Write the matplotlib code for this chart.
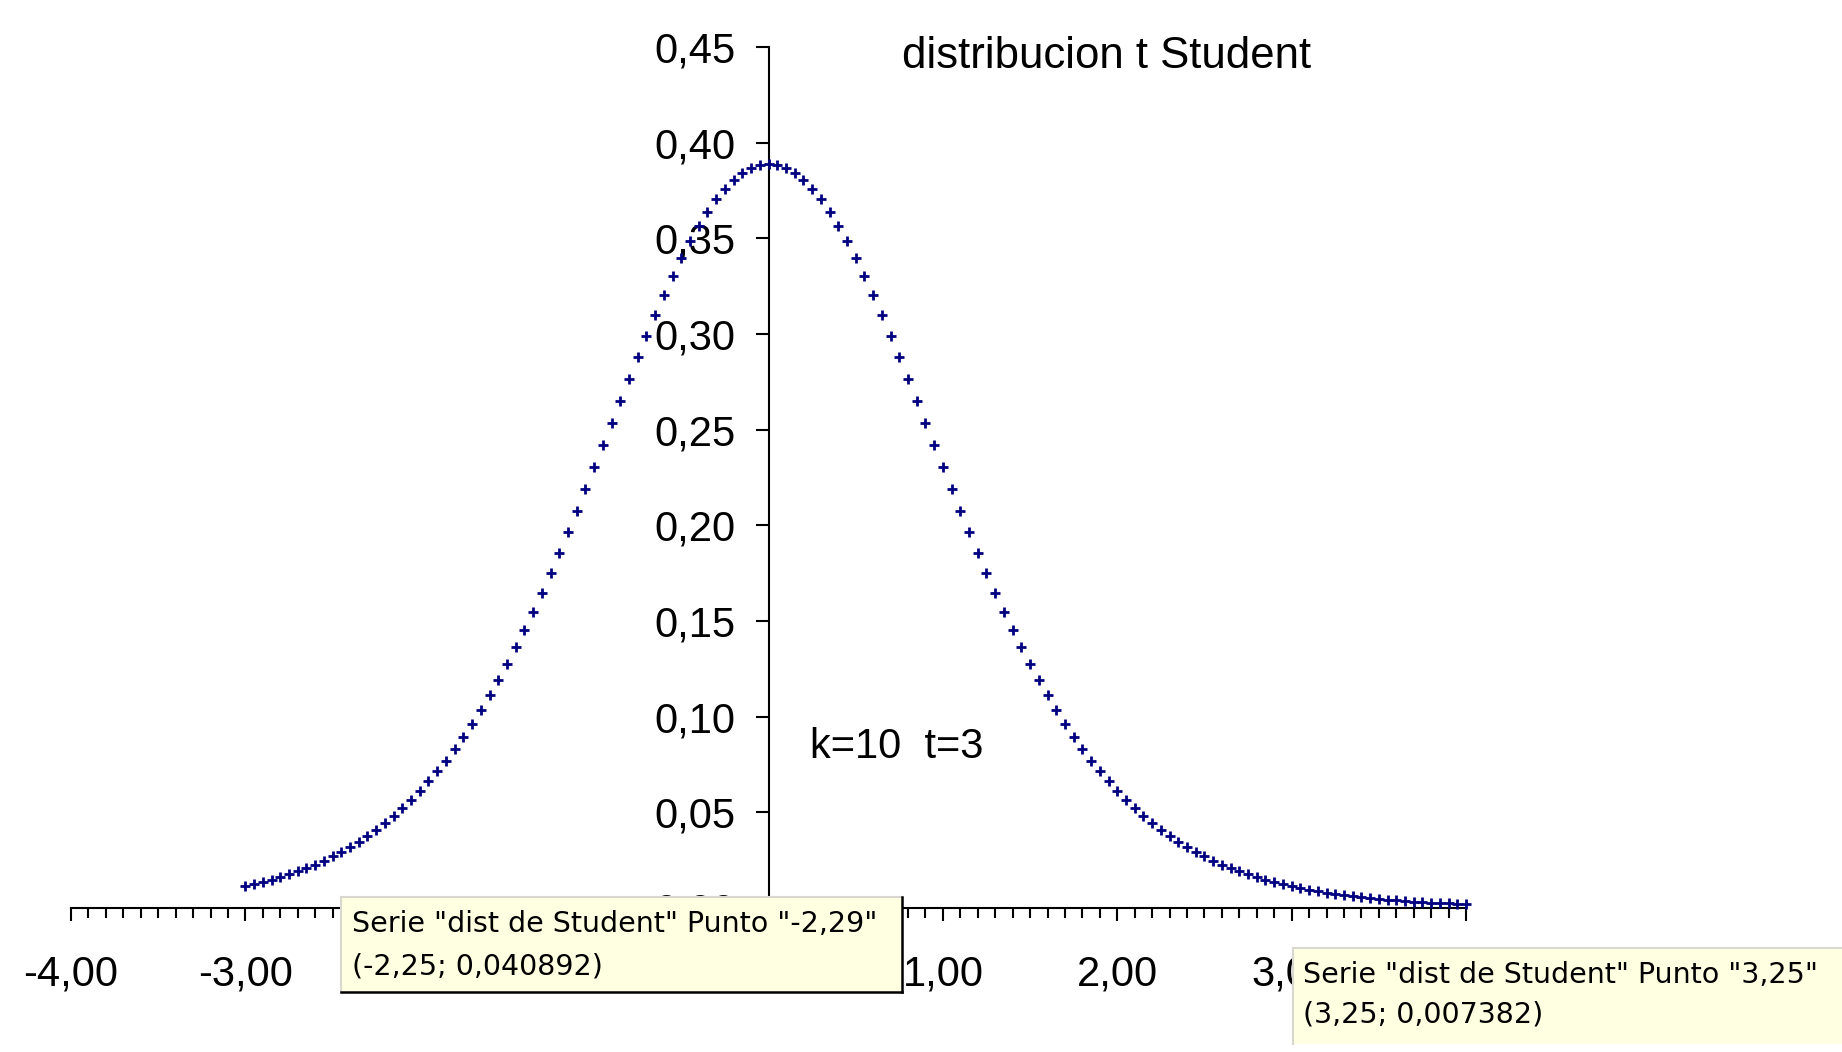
import numpy as np
import matplotlib
matplotlib.use("Agg")
import matplotlib.pyplot as plt
from matplotlib.ticker import FuncFormatter, MultipleLocator
from matplotlib.patches import Rectangle
from matplotlib.lines import Line2D

plt.rcParams['font.family'] = ['Liberation Sans', 'DejaVu Sans']

# t values, step 0,05 from -3 to 4
t_vals = np.round(np.arange(-60, 81) * 0.05, 2)
# density values (k=10)
dens = [0.01140, 0.01243, 0.01356, 0.01479, 0.01612, 0.01757, 0.01915, 0.02087,
        0.02273, 0.02475, 0.02694, 0.02931, 0.03188, 0.03466, 0.03766, 0.04089,
        0.04438, 0.04813, 0.05217, 0.05650, 0.06115, 0.06612, 0.07143, 0.07709,
        0.08312, 0.08952, 0.09631, 0.10350, 0.11108, 0.11906, 0.12745, 0.13622,
        0.14540, 0.15494, 0.16485, 0.17510, 0.18566, 0.19651, 0.20761, 0.21891,
        0.23036, 0.24193, 0.25353, 0.26512, 0.27663, 0.28797, 0.29909, 0.30990,
        0.32033, 0.33028, 0.33970, 0.34849, 0.35658, 0.36390, 0.37040, 0.37600,
        0.38066, 0.38433, 0.38698, 0.38857,
        0.38911,
        0.38857, 0.38698, 0.38433, 0.38066, 0.37600, 0.37040, 0.36390, 0.35658,
        0.34849, 0.33970, 0.33028, 0.32033, 0.30990, 0.29909, 0.28797, 0.27663,
        0.26512, 0.25353, 0.24193, 0.23036, 0.21891, 0.20761, 0.19651, 0.18566,
        0.17510, 0.16485, 0.15494, 0.14540, 0.13622, 0.12745, 0.11906, 0.11108,
        0.10350, 0.09631, 0.08952, 0.08312, 0.07709, 0.07143, 0.06612, 0.06115,
        0.05650, 0.05217, 0.04813, 0.04438, 0.04089, 0.03766, 0.03466, 0.03188,
        0.02931, 0.02694, 0.02475, 0.02273, 0.02087, 0.01915, 0.01757, 0.01612,
        0.01479, 0.01356, 0.01243, 0.01140,
        0.01045, 0.00958, 0.00878, 0.00805, 0.00738, 0.00677, 0.00620, 0.00569,
        0.00522, 0.00478, 0.00439, 0.00402, 0.00369, 0.00339, 0.00311, 0.00285,
        0.00262, 0.00241, 0.00221, 0.00203]

x_ticks = [-4, -3, -2, -1, 0, 1, 2, 3, 4]
y_ticks = [0, 0.05, 0.10, 0.15, 0.20, 0.25, 0.30, 0.35, 0.40, 0.45]

title = "distribucion t Student"
note = "k=10  t=3"
tip1 = ['Serie "dist de Student" Punto "-2,29"', '(-2,25; 0,040892)']
tip2 = ['Serie "dist de Student" Punto "3,25"', '(3,25; 0,007382)']

W, H = 1842, 1052
fig = plt.figure(figsize=(W / 100, H / 100), dpi=100)
ax = fig.add_axes([71 / W, 1 - 908 / H, (1466 - 71) / W, (908 - 47) / H])

ax.plot(t_vals, dens, linestyle='none', marker='+', color='#000080',
        markersize=7, markeredgewidth=2.0, clip_on=False, zorder=3)

ax.set_xlim(-4, 4)
ax.set_ylim(0, 0.45)
ax.spines['top'].set_visible(False)
ax.spines['right'].set_visible(False)
ax.spines['left'].set_position(('data', 0))
ax.spines['left'].set_linewidth(1.5)
ax.spines['bottom'].set_linewidth(1.5)

ax.set_xticks(x_ticks)
ax.xaxis.set_minor_locator(MultipleLocator(0.1))
ax.set_yticks(y_ticks)
comma = FuncFormatter(lambda v, p: f"{v:.2f}".replace('.', ','))
ax.xaxis.set_major_formatter(comma)
ax.yaxis.set_major_formatter(comma)
ax.tick_params(axis='x', which='major', direction='out', length=9.5, width=1.5,
               pad=24, labelsize=30, colors='black')
ax.tick_params(axis='x', which='minor', direction='out', length=7, width=1.5)
ax.tick_params(axis='y', which='major', direction='out', length=9.5, width=1.5,
               pad=14, labelsize=30)
ax.tick_params(axis='y', which='minor', left=False)

fig.text(902 / W, 1 - 68 / H, title, fontsize=31.5, va='baseline', ha='left')
fig.text(810 / W, 1 - 758 / H, note, fontsize=30, va='baseline', ha='left')

# tooltips drawn over the axes
def tooltip(x0, y0, x1, y1, lines, tx, bases, border=True):
    fig.add_artist(Rectangle((x0 / W, 1 - y1 / H), (x1 - x0) / W, (y1 - y0) / H,
                             transform=fig.transFigure, facecolor='#FFFFE1',
                             edgecolor='none', zorder=10))
    fig.add_artist(Line2D([x0 / W, x1 / W], [1 - y0 / H, 1 - y0 / H],
                          transform=fig.transFigure, color='#d8d8d0', lw=1.5, zorder=11))
    fig.add_artist(Line2D([x0 / W, x0 / W], [1 - y0 / H, 1 - y1 / H],
                          transform=fig.transFigure, color='#d8d8d0', lw=1.5, zorder=11))
    if border:
        fig.add_artist(Line2D([x0 / W, x1 / W], [1 - y1 / H, 1 - y1 / H],
                              transform=fig.transFigure, color='black', lw=1.8, zorder=11))
        fig.add_artist(Line2D([x1 / W, x1 / W], [1 - y0 / H, 1 - y1 / H],
                              transform=fig.transFigure, color='black', lw=1.8, zorder=11))
    for s, b in zip(lines, bases):
        fig.text(tx / W, 1 - b / H, s, fontsize=20.5, family=['DejaVu Sans'],
                 va='baseline', ha='left', zorder=12)

tooltip(341, 897, 902, 992, tip1, 352, [932, 974])
tooltip(1293, 948, 1842, 1044, tip2, 1303, [983, 1023], border=False)

fig.savefig('out.png', dpi=100)
